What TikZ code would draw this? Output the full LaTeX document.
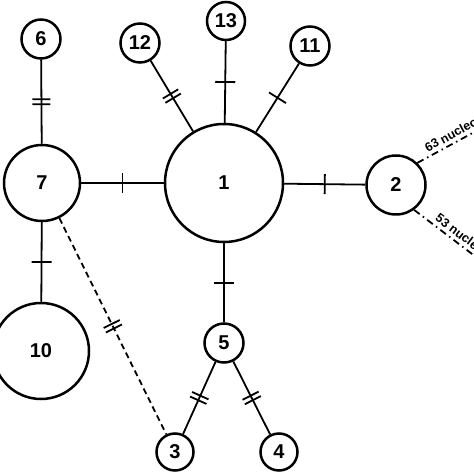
\documentclass[tikz,border=0pt]{standalone}
\usepackage{fontspec}
\setmainfont{Liberation Sans}

\tikzset{
  hap/.style={circle, draw, line width=2.5pt, inner sep=0pt, font=\fontsize{20}{22}\selectfont\bfseries},
  link/.style={line width=1.8pt},
  far/.style={line width=1.8pt, dash pattern=on 7pt off 4pt on 1.5pt off 4pt},
  farlabel/.style={font=\fontsize{12.5}{14}\selectfont\bfseries},
  stick/.pic={\draw[solid, line width=1.8pt] (0,-10) -- (0,10);},
  dtick/.pic={\draw[solid, line width=1.8pt] (-2.5,-9) -- (-2.5,9) (2.5,-9) -- (2.5,9);}
}

\begin{document}
\begin{tikzpicture}[x=1pt, y=1pt]
    \useasboundingbox (0,0) rectangle (474,474);
    \clip (0,0) rectangle (474,474);

    % Haplotypes
    \node[hap, minimum size=118] (n1) at (224,291) {1};
    \node[hap, minimum size=59] (n2) at (396,289) {2};
    \node[hap, minimum size=37] (n3) at (175,22) {3};
    \node[hap, minimum size=37] (n4) at (279,22) {4};
    \node[hap, minimum size=39] (n5) at (224,131) {5};
    \node[hap, minimum size=39] (n6) at (41,435) {6};
    \node[hap, minimum size=76] (n7) at (42,291) {7};
    \node[hap, minimum size=96] (n10) at (41,123) {10};
    \node[hap, minimum size=39] (n11) at (310,428) {11};
    \node[hap, minimum size=39] (n12) at (140,431) {12};
    \node[hap, minimum size=38] (n13) at (226,453) {13};

    % Verbindingen met mutatiestreepjes
    \draw[link] (n1) -- (n7) pic[pos=.5, sloped] {stick};
    \draw[link] (n1) -- (n2) pic[pos=.5, sloped] {stick};
    \draw[link] (n1) -- (n13) pic[pos=.5, sloped] {stick};
    \draw[link] (n1) -- (n11) pic[pos=.5, sloped] {stick};
    \draw[link] (n1) -- (n12) pic[pos=.5, sloped] {dtick};
    \draw[link] (n1) -- (n5) pic[pos=.5, sloped] {stick};
    \draw[link] (n7) -- (n6) pic[pos=.5, sloped] {dtick};
    \draw[link] (n7) -- (n10) pic[pos=.5, sloped] {stick};
    \draw[link] (n5) -- (n3) pic[pos=.5, sloped] {dtick};
    \draw[link] (n5) -- (n4) pic[pos=.5, sloped] {dtick};
    \draw[link, dash pattern=on 6pt off 4pt] (n7) -- (n3) pic[pos=.5, sloped] {dtick};

    % Verre verbindingen naar rechts
    \coordinate (far63) at (480,345);
    \coordinate (far53) at (480,214);
    \draw[far] (n2.46) -- (far63)
        node[pos=.14, sloped, anchor=south west, farlabel] {63 nucleotides};
    \draw[far] (n2.-54) -- (far53)
        node[pos=.22, sloped, anchor=south west, farlabel] {53 nucleotides};
\end{tikzpicture}
\end{document}
